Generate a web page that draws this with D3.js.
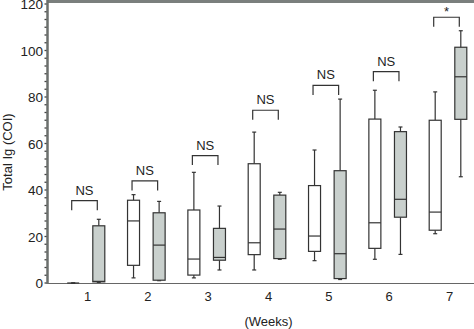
<!DOCTYPE html>
<html>
<head>
<meta charset="utf-8">
<script src="https://cdn.jsdelivr.net/npm/d3@7"></script>
<style>
  body { margin: 0; background: #fff; }
  svg { display: block; font-family: "Liberation Sans", Arial, sans-serif; }
</style>
</head>
<body>
<div id="chart"></div>
<script>
//-- Data --//
var weeks = [1, 2, 3, 4, 5, 6, 7];
// five-number summaries per week: [min, q1, median, q3, max]
var whiteBoxes = [
  [0, 0, 0, 0, 0],
  [2.2, 7.6, 26.7, 35.6, 38],
  [2.2, 3.4, 10.3, 31.4, 47.6],
  [5.6, 12.2, 17.3, 51.3, 64.9],
  [9.6, 13.6, 20.2, 41.9, 57.2],
  [10.2, 14.9, 25.9, 70.5, 82.9],
  [21.2, 22.7, 30.5, 70, 82.2]
];
var greyBoxes = [
  [0.3, 0.5, 0.7, 24.6, 27.4],
  [1, 1.2, 16.3, 30.2, 35.1],
  [5.6, 9.8, 11, 23.5, 33.1],
  [10.2, 10.5, 23.2, 37.8, 39],
  [1.5, 1.9, 12.6, 48.3, 79.1],
  [12.3, 28.3, 36, 65.1, 67.1],
  [45.7, 70.4, 88.7, 101.4, 108.5]
];
var bracketLevels = [35.4, 43.9, 54.8, 74.3, 85, 90.9, 114.3];
var bracketLabels = ["NS", "NS", "NS", "NS", "NS", "NS", "*"];
var yTicks = [0, 20, 40, 60, 80, 100, 120];

//-- Setup --//
var W = 474, H = 329;
var svg = d3.select("#chart").append("svg")
  .attr("width", W)
  .attr("height", H);

var x = d3.scaleLinear().domain([1, 7]).range([86, 448]);
var y = d3.scaleLinear().domain([0, 120]).range([283, 4]);
var offset = 12.8, boxW = 12;

// top frame line
svg.append("line")
  .attr("x1", 47).attr("x2", W)
  .attr("y1", 1.5).attr("y2", 1.5)
  .attr("stroke", "#7a7f7d").attr("stroke-width", 3);

// x axis line (labels only, no ticks)
svg.append("line")
  .attr("x1", 47).attr("x2", W)
  .attr("y1", y(0) + 0.5).attr("y2", y(0) + 0.5)
  .attr("stroke", "#666").attr("stroke-width", 1.2);

svg.append("g").selectAll("text")
  .data(weeks)
  .enter().append("text")
  .attr("x", function(d) { return x(d) + 1.5; })
  .attr("y", 301)
  .attr("text-anchor", "middle")
  .attr("font-size", 13)
  .attr("fill", "#222")
  .text(function(d) { return d; });

// y axis with minor ticks
var minor = d3.range(0, 120.01, 20 / 6);
svg.append("g").selectAll("line")
  .data(minor)
  .enter().append("line")
  .attr("x1", 44.5).attr("x2", 47)
  .attr("y1", function(d) { return y(d); })
  .attr("y2", function(d) { return y(d); })
  .attr("stroke", "#444").attr("stroke-width", 1.3);

svg.append("line")
  .attr("x1", 47.5).attr("x2", 47.5)
  .attr("y1", 0).attr("y2", y(0) + 1)
  .attr("stroke", "#6b6f6d").attr("stroke-width", 2.5);

svg.append("g").selectAll("text")
  .data(yTicks)
  .enter().append("text")
  .attr("x", 43)
  .attr("y", function(d) { return y(d) + 5; })
  .attr("text-anchor", "end")
  .attr("font-size", 13.5)
  .attr("fill", "#222")
  .text(function(d) { return d; });

// axis titles
svg.append("text")
  .attr("transform", "translate(12,152) rotate(-90)")
  .attr("text-anchor", "middle")
  .attr("font-size", 13)
  .attr("fill", "#222")
  .text("Total Ig (COI)");

svg.append("text")
  .attr("x", 268.5).attr("y", 326)
  .attr("text-anchor", "middle")
  .attr("font-size", 13)
  .attr("fill", "#222")
  .text("(Weeks)");

//-- Box plots --//
function drawBoxes(data, dx, fill) {
  var g = svg.append("g");
  data.forEach(function(s, i) {
    var cx = x(weeks[i]) + dx;
    var b = g.append("g").attr("stroke", "#333").attr("stroke-width", 1.2);
    // whiskers
    b.append("line")
      .attr("x1", cx).attr("x2", cx)
      .attr("y1", y(s[3])).attr("y2", y(s[4]));
    b.append("line")
      .attr("x1", cx).attr("x2", cx)
      .attr("y1", y(s[1])).attr("y2", y(s[0]));
    [s[0], s[4]].forEach(function(v) {
      b.append("line")
        .attr("x1", cx - 2).attr("x2", cx + 2)
        .attr("y1", y(v)).attr("y2", y(v));
    });
    // box
    b.append("rect")
      .attr("x", cx - boxW / 2)
      .attr("y", y(s[3]))
      .attr("width", boxW)
      .attr("height", y(s[1]) - y(s[3]))
      .attr("fill", fill);
    // median
    b.append("line")
      .attr("x1", cx - boxW / 2).attr("x2", cx + boxW / 2)
      .attr("y1", y(s[2])).attr("y2", y(s[2]));
  });
}
drawBoxes(whiteBoxes, -offset, "#fff");
drawBoxes(greyBoxes, offset, "#c9d0cd");

//-- Significance brackets --//
var br = svg.append("g");
weeks.forEach(function(w, i) {
  var x1 = x(w) - offset - 1.5, x2 = x(w) + offset - 1.5, yy = y(bracketLevels[i]);
  br.append("path")
    .attr("d", "M" + x1 + "," + (yy + 9.5) + "V" + yy + "H" + x2 + "V" + (yy + 9.5))
    .attr("fill", "none")
    .attr("stroke", "#333")
    .attr("stroke-width", 1.2);
  br.append("text")
    .attr("x", (x1 + x2) / 2)
    .attr("y", bracketLabels[i] === "*" ? yy - 1 : yy - 6)
    .attr("text-anchor", "middle")
    .attr("font-size", 13)
    .attr("fill", "#222")
    .text(bracketLabels[i]);
});
</script>
</body>
</html>
